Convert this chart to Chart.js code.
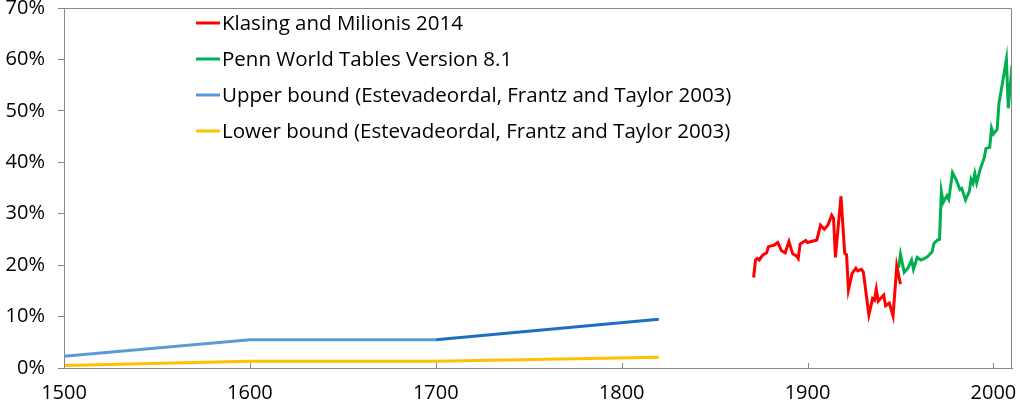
<!DOCTYPE html>
<html>
<head>
<meta charset="utf-8">
<script src="https://cdn.jsdelivr.net/npm/chart.js@4/dist/chart.umd.min.js"></script>
<style>
  html, body { margin: 0; padding: 0; background: #fff; }
</style>
</head>
<body>
<canvas id="chart" width="1020" height="403"></canvas>
<script>
// trade openness, %
var klasingYears = [1871, 1872, 1873, 1874, 1876, 1878, 1879, 1882, 1884, 1886, 1888, 1890, 1892, 1894, 1895, 1896, 1899, 1900,
  1903, 1905, 1907, 1909, 1911, 1913, 1914, 1915, 1918, 1920, 1921, 1922, 1924, 1926, 1927, 1929, 1930, 1933, 1935, 1936,
  1937, 1938, 1941, 1942, 1944, 1946, 1948, 1950]
var klasingValues = [17.6, 21.0, 21.3, 21.0, 22.0, 22.4, 23.6, 23.9, 24.4, 22.8, 22.4, 24.6, 22.2, 21.8, 21.3, 24.1, 24.8, 24.4,
  24.7, 24.9, 27.8, 27.0, 27.8, 29.7, 29.1, 21.5, 33.4, 22.3, 22.0, 15.2, 18.4, 19.4, 18.9, 19.2, 18.7, 10.3, 13.5, 13.2,
  15.3, 13.0, 14.2, 12.1, 12.6, 10.1, 19.8, 16.3]

var pwtYears = [1949, 1950, 1952, 1954, 1956, 1957, 1959, 1961, 1963, 1965, 1967, 1968, 1970, 1971, 1972, 1973, 1975, 1976,
  1978, 1980, 1982, 1983, 1985, 1987, 1988, 1989, 1990, 1991, 1993, 1995, 1996, 1998, 1999, 2000, 2002, 2003, 2005, 2007,
  2008, 2010]
var pwtValues = [19.5, 22.1, 18.6, 19.4, 21.0, 19.2, 21.5, 21.0, 21.3, 21.8, 22.6, 24.2, 24.9, 25.0, 34.3, 32.2, 33.5, 32.8,
  38.0, 36.6, 34.7, 34.9, 32.7, 34.3, 36.7, 35.9, 37.8, 36.0, 38.8, 40.8, 42.7, 42.9, 46.6, 45.5, 46.4, 51.5, 55.7, 60.0,
  50.5, 58.9]

var boundYears = [1500, 1600, 1700, 1820]
var upperValues = [2.3, 5.5, 5.5, 9.5]
var lowerValues = [0.5, 1.3, 1.3, 2.1]

var xTicks = [1500, 1600, 1700, 1800, 1900, 2000]

var labels = [
  'Klasing and Milionis 2014',
  'Penn World Tables Version 8.1',
  'Upper bound (Estevadeordal, Frantz and Taylor 2003)',
  'Lower bound (Estevadeordal, Frantz and Taylor 2003)'
]

var RED = '#ff0000'
var GREEN = '#00b050'
var LIGHT_BLUE = '#5b9bd5'
var DARK_BLUE = '#1f6fc0'
var YELLOW = '#ffc000'
var FRAME = '#878787'
var FONT = '"Open Sans"'

function points(xs, ys) {
  return xs.map(function (x, i) { return { x: x, y: ys[i] } })
}

// no extra room for the end labels, the plot runs to the edge like the original
function noPad(s) {
  s.paddingTop = 0
  s.paddingBottom = 0
  s.paddingLeft = 0
  s.paddingRight = 0
}

// legend sits inside the plot, drawn by hand
var insideLegend = {
  id: 'insideLegend',
  afterDraw: function (chart) {
    var ctx = chart.ctx
    var area = chart.chartArea
    ctx.save()
    // top and right frame
    ctx.strokeStyle = FRAME
    ctx.lineWidth = 1
    ctx.beginPath()
    ctx.moveTo(area.left, area.top + 0.5)
    ctx.lineTo(area.right - 0.5, area.top + 0.5)
    ctx.lineTo(area.right - 0.5, area.bottom)
    ctx.stroke()

    // x tick marks point up into the plot
    var xs = chart.scales.x
    xs.ticks.forEach(function (t) {
      var px = Math.round(xs.getPixelForValue(t.value)) + 0.5
      ctx.beginPath()
      ctx.moveTo(px, area.bottom)
      ctx.lineTo(px, area.bottom - 5)
      ctx.stroke()
    })

    ctx.font = '20.5px ' + FONT
    ctx.fillStyle = '#000'
    ctx.textBaseline = 'middle'
    chart.data.datasets.forEach(function (ds, i) {
      var y = 23 + i * 36
      ctx.strokeStyle = ds.legendColor
      ctx.lineWidth = 3
      ctx.beginPath()
      ctx.moveTo(196, y)
      ctx.lineTo(220, y)
      ctx.stroke()
      ctx.fillText(ds.label, 222, y + 1)
    })
    ctx.restore()
  }
}

Chart.defaults.font.family = FONT
Chart.defaults.font.size = 20
Chart.defaults.color = '#000'

new Chart(document.getElementById('chart'), {
  type: 'line',
  data: {
    datasets: [
      { label: labels[0], data: points(klasingYears, klasingValues), borderColor: RED, legendColor: RED },
      { label: labels[1], data: points(pwtYears, pwtValues), borderColor: GREEN, legendColor: GREEN },
      {
        label: labels[2], data: points(boundYears, upperValues), borderColor: LIGHT_BLUE, legendColor: LIGHT_BLUE,
        segment: { borderColor: function (c) { return c.p0.parsed.x >= 1700 ? DARK_BLUE : LIGHT_BLUE } }
      },
      { label: labels[3], data: points(boundYears, lowerValues), borderColor: YELLOW, legendColor: YELLOW }
    ]
  },
  options: {
    responsive: false,
    animation: false,
    events: [],
    datasets: { line: { borderWidth: 3, pointRadius: 0, tension: 0, fill: false } },
    layout: { padding: { top: 8, right: 8, left: 0, bottom: 0 } },
    plugins: { legend: { display: false }, tooltip: { enabled: false } },
    scales: {
      x: {
        type: 'linear',
        min: 1500,
        max: 2010,
        afterBuildTicks: function (s) { s.ticks = xTicks.map(function (v) { return { value: v } }) },
        afterFit: function (s) { s.height = 35; noPad(s) },
        ticks: { padding: 13, maxRotation: 0, callback: function (v) { return String(v) } },
        grid: { drawOnChartArea: false, drawTicks: false },
        border: { color: FRAME, width: 1 }
      },
      y: {
        min: 0,
        max: 70,
        afterFit: function (s) { s.width = 64; noPad(s) },
        ticks: { stepSize: 10, padding: 13, callback: function (v) { return v + '%' } },
        grid: { drawOnChartArea: false, drawTicks: true, tickLength: 6, color: FRAME },
        border: { color: FRAME, width: 1 }
      }
    }
  },
  plugins: [insideLegend]
})
</script>
</body>
</html>
